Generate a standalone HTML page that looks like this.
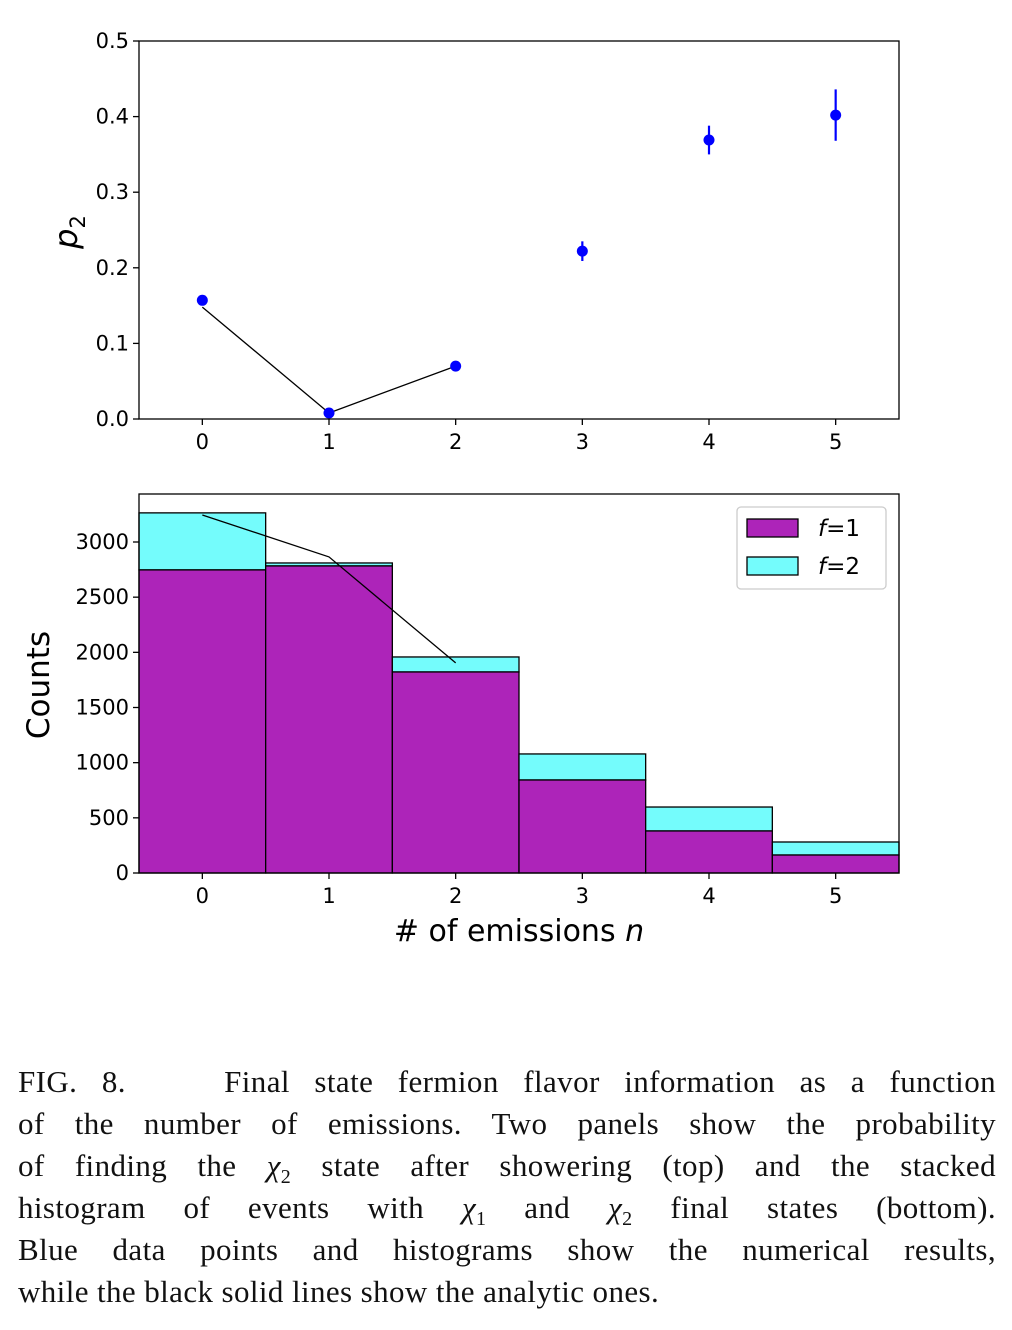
<!DOCTYPE html>
<html><head><meta charset="utf-8"><style>
body{margin:0;background:#fff;width:1012px;height:1330px;overflow:hidden;position:relative}
svg text{font-family:"DejaVu Sans","Liberation Sans",sans-serif}
#cap{position:absolute;left:18px;top:1061px;width:978px;font-family:"Liberation Serif",serif;font-size:31px;line-height:42px;color:#111;letter-spacing:0.4px}
#cap div{text-align:justify;text-align-last:justify;white-space:nowrap;height:42px}
#cap div.last{text-align-last:left}
#cap sub{font-size:20px;line-height:0}
</style></head><body>
<svg width="1012" height="1000" style="position:absolute;left:0;top:0">
<g id="top"></g>
<g id="bot"></g>
</svg>
<div id="cap">
<div style="white-space:normal">FIG. 8.&nbsp;&nbsp;&nbsp; Final state fermion flavor information as a function</div>
<div style="white-space:normal">of the number of emissions. Two panels show the probability</div>
<div style="white-space:normal">of finding the <i>χ</i><sub>2</sub> state after showering (top) and the stacked</div>
<div style="white-space:normal">histogram of events with <i>χ</i><sub>1</sub> and <i>χ</i><sub>2</sub> final states (bottom).</div>
<div style="white-space:normal">Blue data points and histograms show the numerical results,</div>
<div class="last">while the black solid lines show the analytic ones.</div>
</div>
<script>
const categories=[0,1,2,3,4,5];
const p2Values=[0.157,0.008,0.070,0.222,0.369,0.402];
const p2Errors=[0.003,0.002,0.004,0.013,0.019,0.034];
const p2Analytic=[0.148,0.008,0.070];
const p2Ticks=[0,0.1,0.2,0.3,0.4,0.5];
const f1Counts=[2747,2783,1822,843,381,163];
const f2Counts=[517,27,136,236,217,118];
const countAnalytic=[3245,2865,1904];
const countTicks=[0,500,1000,1500,2000,2500,3000];
const NS="http://www.w3.org/2000/svg";
function mk(p,t,a,txt){const e=document.createElementNS(NS,t);for(const k in a)e.setAttribute(k,a[k]);if(txt!==undefined)e.textContent=txt;p.appendChild(e);return e;}
const X0=139,X1=899;
const xs=v=>X0+(v+0.5)*(X1-X0)/6;
const FS=21;
// top
const T=document.getElementById('top');
const ty=v=>419-v*(419-41)/0.5;
p2Ticks.forEach(t=>{const l=mk(T,'line',{x1:X0-6,x2:X0,y1:ty(t),y2:ty(t),stroke:'#000','stroke-width':1.3});

const tx=mk(T,'text',{x:X0-10,y:ty(t)+7,'text-anchor':'end','font-size':FS},t.toFixed(1));
});
categories.forEach(c=>{mk(T,'line',{x1:xs(c),x2:xs(c),y1:419,y2:425,stroke:'#000','stroke-width':1.3});
const tx=mk(T,'text',{x:xs(c),y:449,'text-anchor':'middle','font-size':FS},c);
});
const pl=mk(T,'polyline',{points:p2Analytic.map((v,i)=>xs(i)+','+ty(v)).join(' '),fill:'none',stroke:'#000','stroke-width':1.3});

p2Values.forEach((v,i)=>{mk(T,'line',{x1:xs(i),x2:xs(i),y1:ty(v-p2Errors[i]),y2:ty(v+p2Errors[i]),stroke:'#0000ff','stroke-width':2.2});
const c=mk(T,'circle',{cx:xs(i),cy:ty(v),r:5.5,fill:'#0000ff'});
});
mk(T,'rect',{x:X0,y:41,width:X1-X0,height:378,fill:'none',stroke:'#000','stroke-width':1.3});
const yl=mk(T,'text',{transform:'translate(77,232) rotate(-90)','text-anchor':'middle','font-size':32,'font-style':'italic'},'p');
mk(yl,'tspan',{'font-size':21,dy:8,'font-style':'normal'},'2');

// bottom
const B=document.getElementById('bot');
const by=v=>873-v*331/3000;
const w=(X1-X0)/6;
categories.forEach((c,i)=>{const tot=f1Counts[i]+f2Counts[i];
const r2=mk(B,'rect',{x:xs(c)-w/2,y:by(tot),width:w,height:by(f1Counts[i])-by(tot),fill:'#74fcfc',stroke:'#000','stroke-width':1.3});

const r1=mk(B,'rect',{x:xs(c)-w/2,y:by(f1Counts[i]),width:w,height:873-by(f1Counts[i]),fill:'#ad24b9',stroke:'#000','stroke-width':1.3});

mk(B,'line',{x1:xs(c),x2:xs(c),y1:873,y2:879,stroke:'#000','stroke-width':1.3});
const tx=mk(B,'text',{x:xs(c),y:903,'text-anchor':'middle','font-size':FS},c);
});
countTicks.forEach(t=>{mk(B,'line',{x1:X0-6,x2:X0,y1:by(t),y2:by(t),stroke:'#000','stroke-width':1.3});
const tx=mk(B,'text',{x:X0-10,y:by(t)+7,'text-anchor':'end','font-size':FS},t);
});
const bl=mk(B,'polyline',{points:countAnalytic.map((v,i)=>xs(i)+','+by(v)).join(' '),fill:'none',stroke:'#000','stroke-width':1.3});

mk(B,'rect',{x:X0,y:494,width:X1-X0,height:379,fill:'none',stroke:'#000','stroke-width':1.3});
const lg=mk(B,'g',{});
mk(lg,'rect',{x:737,y:507,width:149,height:82,rx:4,fill:'#fff',stroke:'#ccc','stroke-width':1.3});
mk(lg,'rect',{x:747,y:519,width:51,height:18,fill:'#ad24b9',stroke:'#000','stroke-width':1.3});
mk(lg,'rect',{x:747,y:557,width:51,height:18,fill:'#74fcfc',stroke:'#000','stroke-width':1.3});
const l1=mk(lg,'text',{x:818,y:536,'font-size':23});mk(l1,'tspan',{'font-style':'italic'},'f');mk(l1,'tspan',{},'=1');
const l2=mk(lg,'text',{x:818,y:574,'font-size':23});mk(l2,'tspan',{'font-style':'italic'},'f');mk(l2,'tspan',{},'=2');
const cl=mk(B,'text',{transform:'translate(49,685) rotate(-90)','text-anchor':'middle','font-size':31},'Counts');

const xl=mk(B,'text',{x:519,y:941,'text-anchor':'middle','font-size':30},'# of emissions ');
mk(xl,'tspan',{'font-style':'italic'},'n');

</script>
</body></html>
